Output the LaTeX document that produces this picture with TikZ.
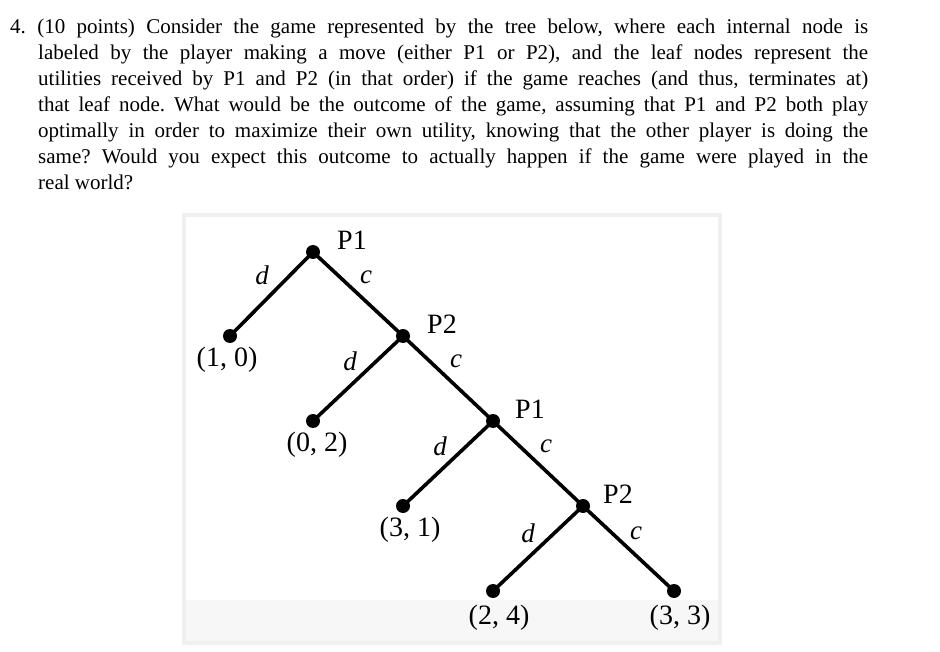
\documentclass[tikz,border=0pt]{standalone}
\usepackage{fontspec}
\setmainfont{Liberation Serif}
\frenchspacing
\begin{document}
\begin{tikzpicture}[x=1pt,y=-1pt,
  line/.style={anchor=base west,inner sep=0pt,font=\fontsize{21}{24}\selectfont},
  dot/.style={circle,fill=black,inner sep=0pt,minimum size=14pt},
  edge/.style={line width=3.6pt},
  pl/.style={font=\fontsize{28}{30}\selectfont,inner sep=0pt},
  lab/.style={font=\fontsize{27}{30}\selectfont\itshape,inner sep=0pt},
  pay/.style={font=\fontsize{28}{30}\selectfont,inner sep=0pt}]
\useasboundingbox (0,0) rectangle (940,652);
\fill[white] (0,0) rectangle (940,652);
% paragraph
\node[line] (l1) at (10,34) {\makebox[858pt][s]{4. (10 points) Consider the game represented by the tree below, where each internal node is}};
\node[line] (l2) at (38,60) {\makebox[830pt][s]{labeled by the player making a move (either P1 or P2), and the leaf nodes represent the}};
\node[line] (l3) at (38,86) {\makebox[830pt][s]{utilities received by P1 and P2 (in that order) if the game reaches (and thus, terminates at)}};
\node[line] (l4) at (38,112) {\makebox[830pt][s]{that leaf node. What would be the outcome of the game, assuming that P1 and P2 both play}};
\node[line] (l5) at (38,138) {\makebox[830pt][s]{optimally in order to maximize their own utility, knowing that the other player is doing the}};
\node[line] (l6) at (38,164) {\makebox[830pt][s]{same? Would you expect this outcome to actually happen if the game were played in the}};
\node[line] (l7) at (38,190) {real world?};
% figure box
\fill[gray!12] (182,213) rectangle (722,645);
\fill[white] (186,217) rectangle (718,600);
\fill[gray!6] (186,600) rectangle (718,641);
% tree
\node[dot] (n1) at (313,252) {};
\node[dot] (n2) at (403,336) {};
\node[dot] (n3) at (493,421) {};
\node[dot] (n4) at (583,506) {};
\node[dot] (a) at (230,336) {};
\node[dot] (b) at (313,421) {};
\node[dot] (e) at (403,506) {};
\node[dot] (f) at (493,591) {};
\node[dot] (g) at (674,591) {};
\draw[edge] (n1.center) -- (a.center);
\draw[edge] (n1.center) -- (n2.center);
\draw[edge] (n2.center) -- (b.center);
\draw[edge] (n2.center) -- (n3.center);
\draw[edge] (n3.center) -- (e.center);
\draw[edge] (n3.center) -- (n4.center);
\draw[edge] (n4.center) -- (f.center);
\draw[edge] (n4.center) -- (g.center);
\node[pl] at ([xshift=39pt,yshift=12pt]n1) {P1};
\node[pl] at ([xshift=39pt,yshift=12pt]n2) {P2};
\node[pl] at ([xshift=37pt,yshift=12pt]n3) {P1};
\node[pl] at ([xshift=35pt,yshift=12pt]n4) {P2};
\node[lab] at ([xshift=-51pt,yshift=-23pt]n1) {d};
\node[lab] at ([xshift=53pt,yshift=-25pt]n1) {c};
\node[lab] at ([xshift=-53pt,yshift=-25pt]n2) {d};
\node[lab] at ([xshift=53pt,yshift=-25pt]n2) {c};
\node[lab] at ([xshift=-53pt,yshift=-25pt]n3) {d};
\node[lab] at ([xshift=53pt,yshift=-25pt]n3) {c};
\node[lab] at ([xshift=-55pt,yshift=-27pt]n4) {d};
\node[lab] at ([xshift=53pt,yshift=-27pt]n4) {c};
\node[pay] at ([xshift=-3pt,yshift=-24pt]a) {(1, 0)};
\node[pay] at ([xshift=4pt,yshift=-24pt]b) {(0, 2)};
\node[pay] at ([xshift=7pt,yshift=-24pt]e) {(3, 1)};
\node[pay] at ([xshift=6pt,yshift=-27pt]f) {(2, 4)};
\node[pay] at ([xshift=6pt,yshift=-27pt]g) {(3, 3)};
\end{tikzpicture}
\end{document}
